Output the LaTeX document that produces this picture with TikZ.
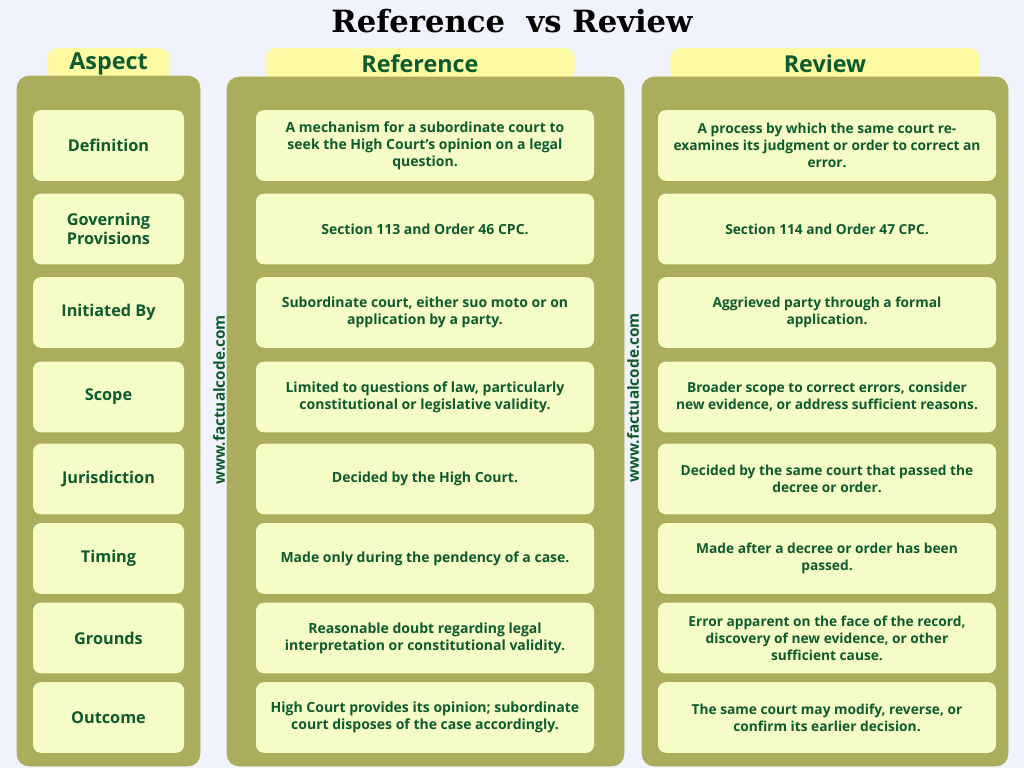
\documentclass[tikz,border=0pt]{standalone}
\usepackage{fontspec}
\setmainfont{Open Sans}
\newfontfamily\titlefont{DejaVu Serif}
\definecolor{bgc}{HTML}{F0F3FB}
\definecolor{panel}{HTML}{ACAD5C}
\definecolor{cell}{HTML}{F5FCC6}
\definecolor{tab}{HTML}{FDFAA3}
\definecolor{ink}{HTML}{0D5B2F}
\tikzset{
  cellbox/.style={fill=cell, rounded corners=6pt, align=center, text=ink,
    font=\bfseries\fontsize{10.5}{12.75}\selectfont, inner sep=2pt, minimum height=53pt},
  aspbox/.style={cellbox, minimum width=113.25pt},
  refbox/.style={cellbox, minimum width=253.5pt},
  tabbox/.style={fill=tab, rounded corners=8pt, text=ink, minimum height=24pt,
    font=\bfseries\fontsize{17.5}{19}\selectfont},
  markstyle/.style={rotate=90, text=ink, font=\bfseries\fontsize{11.5}{13}\selectfont}
}
\begin{document}
\begin{tikzpicture}[x=0.75pt,y=-0.75pt]

        % Background
        \fill[bgc] (0,0) rectangle (1024,768);
        \useasboundingbox (0,0) rectangle (1024,768);

        % Title
        \node[font=\titlefont\bfseries\fontsize{23}{27}\selectfont] (title) at (512,21) {Reference\hspace{0.35em} vs Review};

        % Tabs
        \node[tabbox, minimum width=92pt] (asptab) at (108.5,64) {Aspect};
        \node[tabbox, minimum width=232pt] (reftab) at (420,64) {Reference};
        \node[tabbox, minimum width=232pt] (revtab) at (825,64) {Review};

        % Panels
        \draw[panel, fill=panel, rounded corners=9pt] (17,76) rectangle (200,766);
        \draw[panel, fill=panel, rounded corners=9pt] (227,77) rectangle (624,766);
        \draw[panel, fill=panel, rounded corners=9pt] (642,77) rectangle (1008,766);

        % Watermarks
        \node[markstyle] (mark1) at (219,400) {www.factualcode.com};
        \node[markstyle] (mark2) at (633,398) {www.factualcode.com};

        % Aspect
        \foreach \i/\y/\txt in {1/145.5/Definition, 2/229/{Governing\\Provisions},
          3/312.5/Initiated By, 4/397/Scope, 5/479/Jurisdiction, 6/558.5/Timing,
          7/638/Grounds, 8/717.5/Outcome}
        \node[aspbox, font=\bfseries\fontsize{12.2}{14.5}\selectfont] (asp\i) at (108.5,\y) {\txt};

        \coordinate (refx) at (425,0);
        \coordinate (revx) at (827,0);

        % Reference
        \foreach \i/\txt in {
          1/{A mechanism for a subordinate court to\\seek the High Court’s opinion on a legal\\question.},
          2/{Section 113 and Order 46 CPC.},
          3/{Subordinate court, either suo moto or on\\application by a party.},
          4/{Limited to questions of law, particularly\\constitutional or legislative validity.},
          5/{Decided by the High Court.},
          6/{Made only during the pendency of a case.},
          7/{Reasonable doubt regarding legal\\interpretation or constitutional validity.},
          8/{High Court provides its opinion; subordinate\\court disposes of the case accordingly.}}
        \node[refbox] (ref\i) at (refx |- asp\i) {\txt};

        % Review
        \foreach \i/\txt in {
          1/{A process by which the same court re-\\examines its judgment or order to correct an\\error.},
          2/{Section 114 and Order 47 CPC.},
          3/{Aggrieved party through a formal\\application.},
          4/{Broader scope to correct errors, consider\\new evidence, or address sufficient reasons.},
          5/{Decided by the same court that passed the\\decree or order.},
          6/{Made after a decree or order has been\\passed.},
          7/{Error apparent on the face of the record,\\discovery of new evidence, or other\\sufficient cause.},
          8/{The same court may modify, reverse, or\\confirm its earlier decision.}}
        \node[refbox, font=\bfseries\fontsize{10.3}{12.75}\selectfont] (rev\i) at (revx |- asp\i) {\txt};

\end{tikzpicture}
\end{document}
